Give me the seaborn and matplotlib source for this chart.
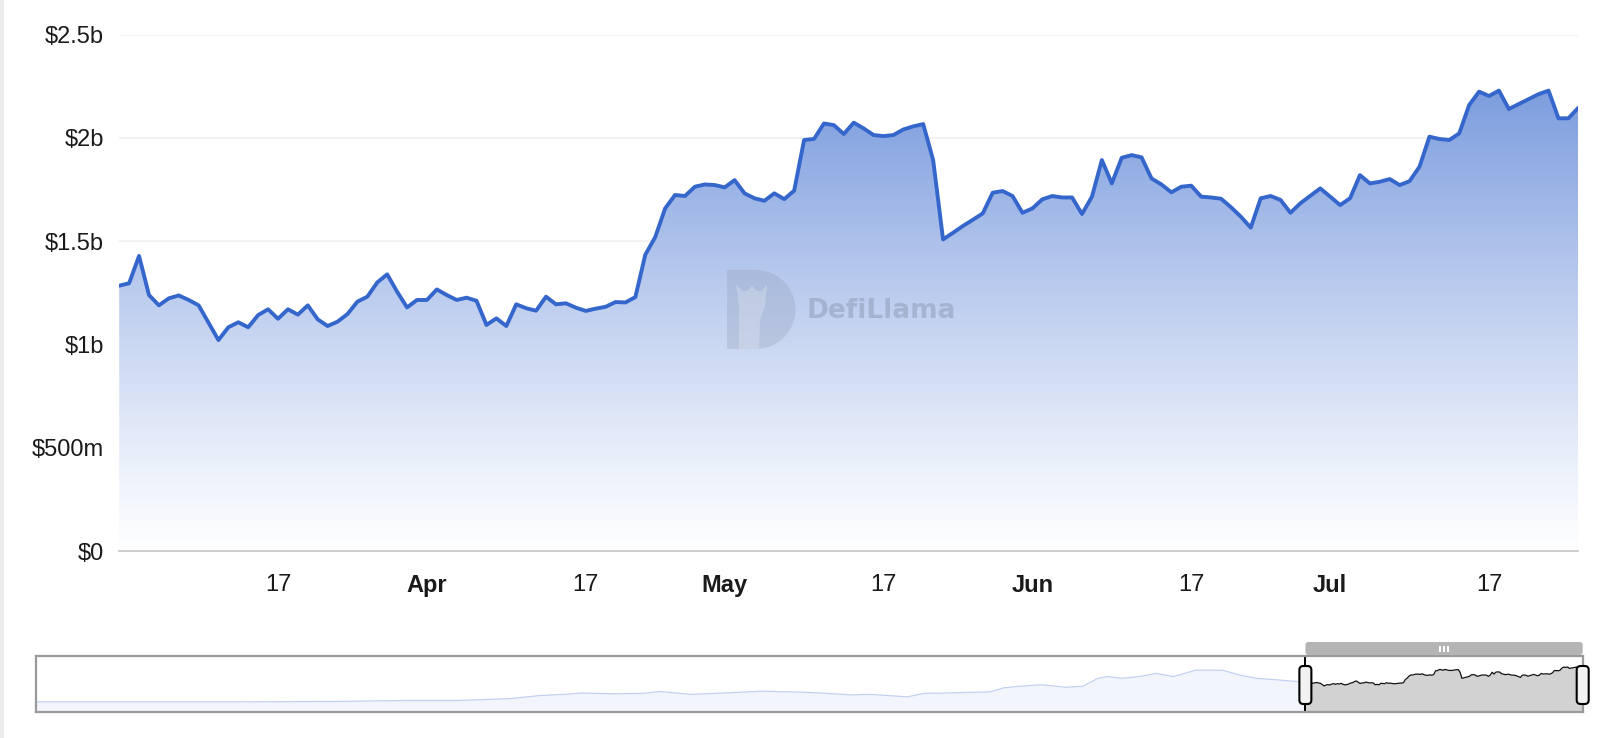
import matplotlib
matplotlib.use("Agg")
import matplotlib.pyplot as plt
import matplotlib.dates as mdates
from matplotlib.patches import Rectangle, Wedge, FancyBboxPatch, Polygon
import numpy as np
import pandas as pd
import seaborn as sns

# daily TVL (billions of $) from 1 Mar to 26 Jul
start_date = "2024-03-01"
tvl_b = [
    1.285, 1.297, 1.429, 1.240, 1.190, 1.224, 1.238, 1.216, 1.190, 1.106,
    1.022, 1.084, 1.108, 1.084, 1.143, 1.171, 1.125, 1.171, 1.145, 1.190,
    1.122, 1.090, 1.111, 1.148, 1.208, 1.232, 1.301, 1.340, 1.256, 1.180,
    1.216, 1.216, 1.267, 1.240, 1.216, 1.227, 1.212, 1.095, 1.127, 1.090,
    1.195, 1.176, 1.164, 1.232, 1.195, 1.200, 1.179, 1.163, 1.174, 1.183,
    1.206, 1.204, 1.230, 1.435, 1.520, 1.659, 1.724, 1.719, 1.764, 1.775,
    1.772, 1.761, 1.796, 1.732, 1.708, 1.696, 1.732, 1.704, 1.745, 1.990,
    1.995, 2.070, 2.062, 2.019, 2.074, 2.046, 2.014, 2.009, 2.014, 2.041,
    2.056, 2.067, 1.893, 1.509, 1.541, 1.574, 1.604, 1.635, 1.735, 1.743,
    1.719, 1.638, 1.659, 1.703, 1.719, 1.712, 1.712, 1.632, 1.716, 1.893,
    1.780, 1.904, 1.917, 1.906, 1.804, 1.775, 1.737, 1.764, 1.769, 1.716,
    1.712, 1.706, 1.665, 1.619, 1.566, 1.708, 1.719, 1.700, 1.638, 1.684,
    1.720, 1.756, 1.716, 1.675, 1.708, 1.820, 1.780, 1.788, 1.801, 1.772,
    1.791, 1.861, 2.006, 1.995, 1.990, 2.022, 2.159, 2.224, 2.203, 2.229,
    2.140, 2.164, 2.188, 2.212, 2.229, 2.095, 2.095, 2.146,
]

# earlier history shown in the zoom navigator (days before 1 Mar, $b)
nav_offset_days = [-673, -567, -512, -476, -449, -421, -406, -392, -384, -368,
                   -351, -342, -326, -313, -288, -268, -256, -240, -231, -211,
                   -202, -185, -167, -160, -152, -140, -127, -118, -110, -105,
                   -97, -88, -79, -70, -58, -44, -35, -26, -15, -5]
nav_values_b = [0.01, 0.01, 0.04, 0.10, 0.10, 0.22, 0.41, 0.49, 0.57, 0.53,
                0.55, 0.67, 0.49, 0.55, 0.69, 0.63, 0.57, 0.45, 0.49, 0.33,
                0.55, 0.59, 0.65, 0.90, 1.00, 1.10, 0.94, 1.00, 1.51, 1.62,
                1.51, 1.62, 1.82, 1.62, 2.03, 2.03, 1.72, 1.51, 1.41, 1.31]

ytick_values = [0, 0.5, 1, 1.5, 2, 2.5]
ytick_labels = ["$0", "$500m", "$1b", "$1.5b", "$2b", "$2.5b"]
xtick_dates = ["2024-03-17", "2024-04-01", "2024-04-17", "2024-05-01", "2024-05-17",
               "2024-06-01", "2024-06-17", "2024-07-01", "2024-07-17"]
xtick_labels = ["17", "Apr", "17", "May", "17", "Jun", "17", "Jul", "17"]
month_ticks = ["Apr", "May", "Jun", "Jul"]

LINE = "#3466cc"
W, H = 1598, 738

dates = pd.date_range(start_date, periods=len(tvl_b), freq="D")
df = pd.DataFrame({"date": dates, "tvl": tvl_b})

sns.set_theme(style="white")
plt.rcParams["font.family"] = ["Liberation Sans", "DejaVu Sans"]

fig = plt.figure(figsize=(W / 100, H / 100), dpi=100)
fig.patch.set_facecolor("white")
ax = fig.add_axes([119.2 / W, 0.2530, 0.9131, 0.7001])

# gradient area under the line (opaque, so the grid stays hidden behind it)
x_num = mdates.date2num(dates)
area = ax.fill_between(x_num, tvl_b, 0, facecolor="none", edgecolor="none")
t = np.linspace(0, 1, 300)[:, None]
a = 0.64 * t ** 1.15
rgb = np.array(matplotlib.colors.to_rgb(LINE))
rgba = np.ones((300, 1, 4))
rgba[..., :3] = (1 - a[..., None]) * np.array([0.995, 0.997, 1.0]) + a[..., None] * rgb
img = ax.imshow(rgba, extent=[x_num[0], x_num[-1], 0, max(tvl_b)], origin="lower",
                aspect="auto", zorder=1, interpolation="bilinear")
img.set_clip_path(area.get_paths()[0], transform=ax.transData)

sns.lineplot(data=df, x="date", y="tvl", ax=ax, color=LINE, linewidth=2.8, zorder=3)

ax.set_xlim(x_num[0], x_num[-1])
ax.set_ylim(0, 2.5)
ax.set_xlabel("")
ax.set_ylabel("")
ax.set_yticks(ytick_values)
ax.set_yticklabels(ytick_labels)
ax.set_xticks(mdates.date2num(pd.to_datetime(xtick_dates)))
ax.set_xticklabels(xtick_labels)
for lbl in ax.get_xticklabels():
    if lbl.get_text() in month_ticks:
        lbl.set_fontweight("bold")
ax.tick_params(axis="y", length=0, pad=11, labelsize=17, colors="#1a1a1a")
ax.tick_params(axis="x", length=0, pad=16.5, labelsize=17, colors="#1a1a1a")
ax.grid(axis="y", color="#efefef", linewidth=1.1)
ax.set_axisbelow(True)
for s in ["top", "right", "left"]:
    ax.spines[s].set_visible(False)
ax.spines["bottom"].set_color("#c8c8c8")
ax.spines["bottom"].set_linewidth(1.3)
ax.spines["bottom"].set_zorder(4)

# zoom navigator
nav_l, nav_r = 35.7, 1582.7
nav_top, nav_bot = 656.3, 712.4
ax_nav = fig.add_axes([nav_l / W, (H - nav_bot) / H, (nav_r - nav_l) / W, (nav_bot - nav_top) / H])
nav_ymin, nav_ymax = -0.66, 2.91
sel_days = list(range(len(tvl_b)))
hist_x = nav_offset_days + [0]
hist_y = nav_values_b + [tvl_b[0]]
ax_nav.fill_between(hist_x, hist_y, nav_ymin, color="#f3f5fc", linewidth=0)
ax_nav.plot(hist_x, hist_y, color="#c3d1f0", linewidth=0.9)
ax_nav.fill_between(sel_days, tvl_b, nav_ymin, color="#d2d2d2", linewidth=0)
ax_nav.plot(sel_days, tvl_b, color="#111111", linewidth=0.9)
ax_nav.axvline(sel_days[0], color="black", linewidth=1.4)
ax_nav.axvline(sel_days[-1], color="black", linewidth=1.4)
ax_nav.set_xlim(nav_offset_days[0], sel_days[-1])
ax_nav.set_ylim(nav_ymin, nav_ymax)
ax_nav.set_xticks([])
ax_nav.set_yticks([])
for s in ax_nav.spines.values():
    s.set_color("#9a9a9a")
    s.set_linewidth(1.6)

# pixel overlay for decorations
ov = fig.add_axes([0, 0, 1, 1], zorder=10)
ov.set_xlim(0, W)
ov.set_ylim(H, 0)
ov.axis("off")
ov.patch.set_alpha(0)

ov.add_patch(Rectangle((0, 0), 3.5, H, color="#ececec", linewidth=0))

span = sel_days[-1] - nav_offset_days[0]
sx0 = nav_l + (sel_days[0] - nav_offset_days[0]) / span * (nav_r - nav_l)
sx1 = nav_r
ov.add_patch(FancyBboxPatch((sx0, 642), sx1 - sx0, 13, boxstyle="round,pad=0,rounding_size=3",
                            facecolor="#b4b4b4", edgecolor="none"))
cx = (sx0 + sx1) / 2
for dx in (-4, 0, 4):
    ov.add_patch(Rectangle((cx + dx - 0.8, 645.5), 1.6, 6, color="white", linewidth=0))
for hx in (sx0, sx1):
    ov.add_patch(FancyBboxPatch((hx - 6, 666), 12, 38, boxstyle="round,pad=0,rounding_size=4",
                                facecolor="#f2f2f2", edgecolor="black", linewidth=1.5))

# watermark: D-shaped logo with a pale llama silhouette, and the name
wm = (0.55, 0.6, 0.7)
ov.add_patch(Rectangle((727, 270), 29, 79, color=wm, alpha=0.28, linewidth=0))
ov.add_patch(Wedge((756, 309.5), 39.5, -90, 90, color=wm, alpha=0.28, linewidth=0))
llama = [(739, 349), (739, 306), (736, 284), (742, 291), (747, 291), (752, 286),
         (757, 291), (762, 291), (767, 284), (765, 306), (760, 320), (759, 349)]
ov.add_patch(Polygon(llama, closed=True, color="white", alpha=0.22, linewidth=0))
ov.text(807, 311, "DefiLlama", fontsize=19, fontweight="bold", color=wm, alpha=0.5,
        ha="left", va="center", family=["DejaVu Sans"])

fig.savefig("out.png", dpi=100, facecolor="white")
